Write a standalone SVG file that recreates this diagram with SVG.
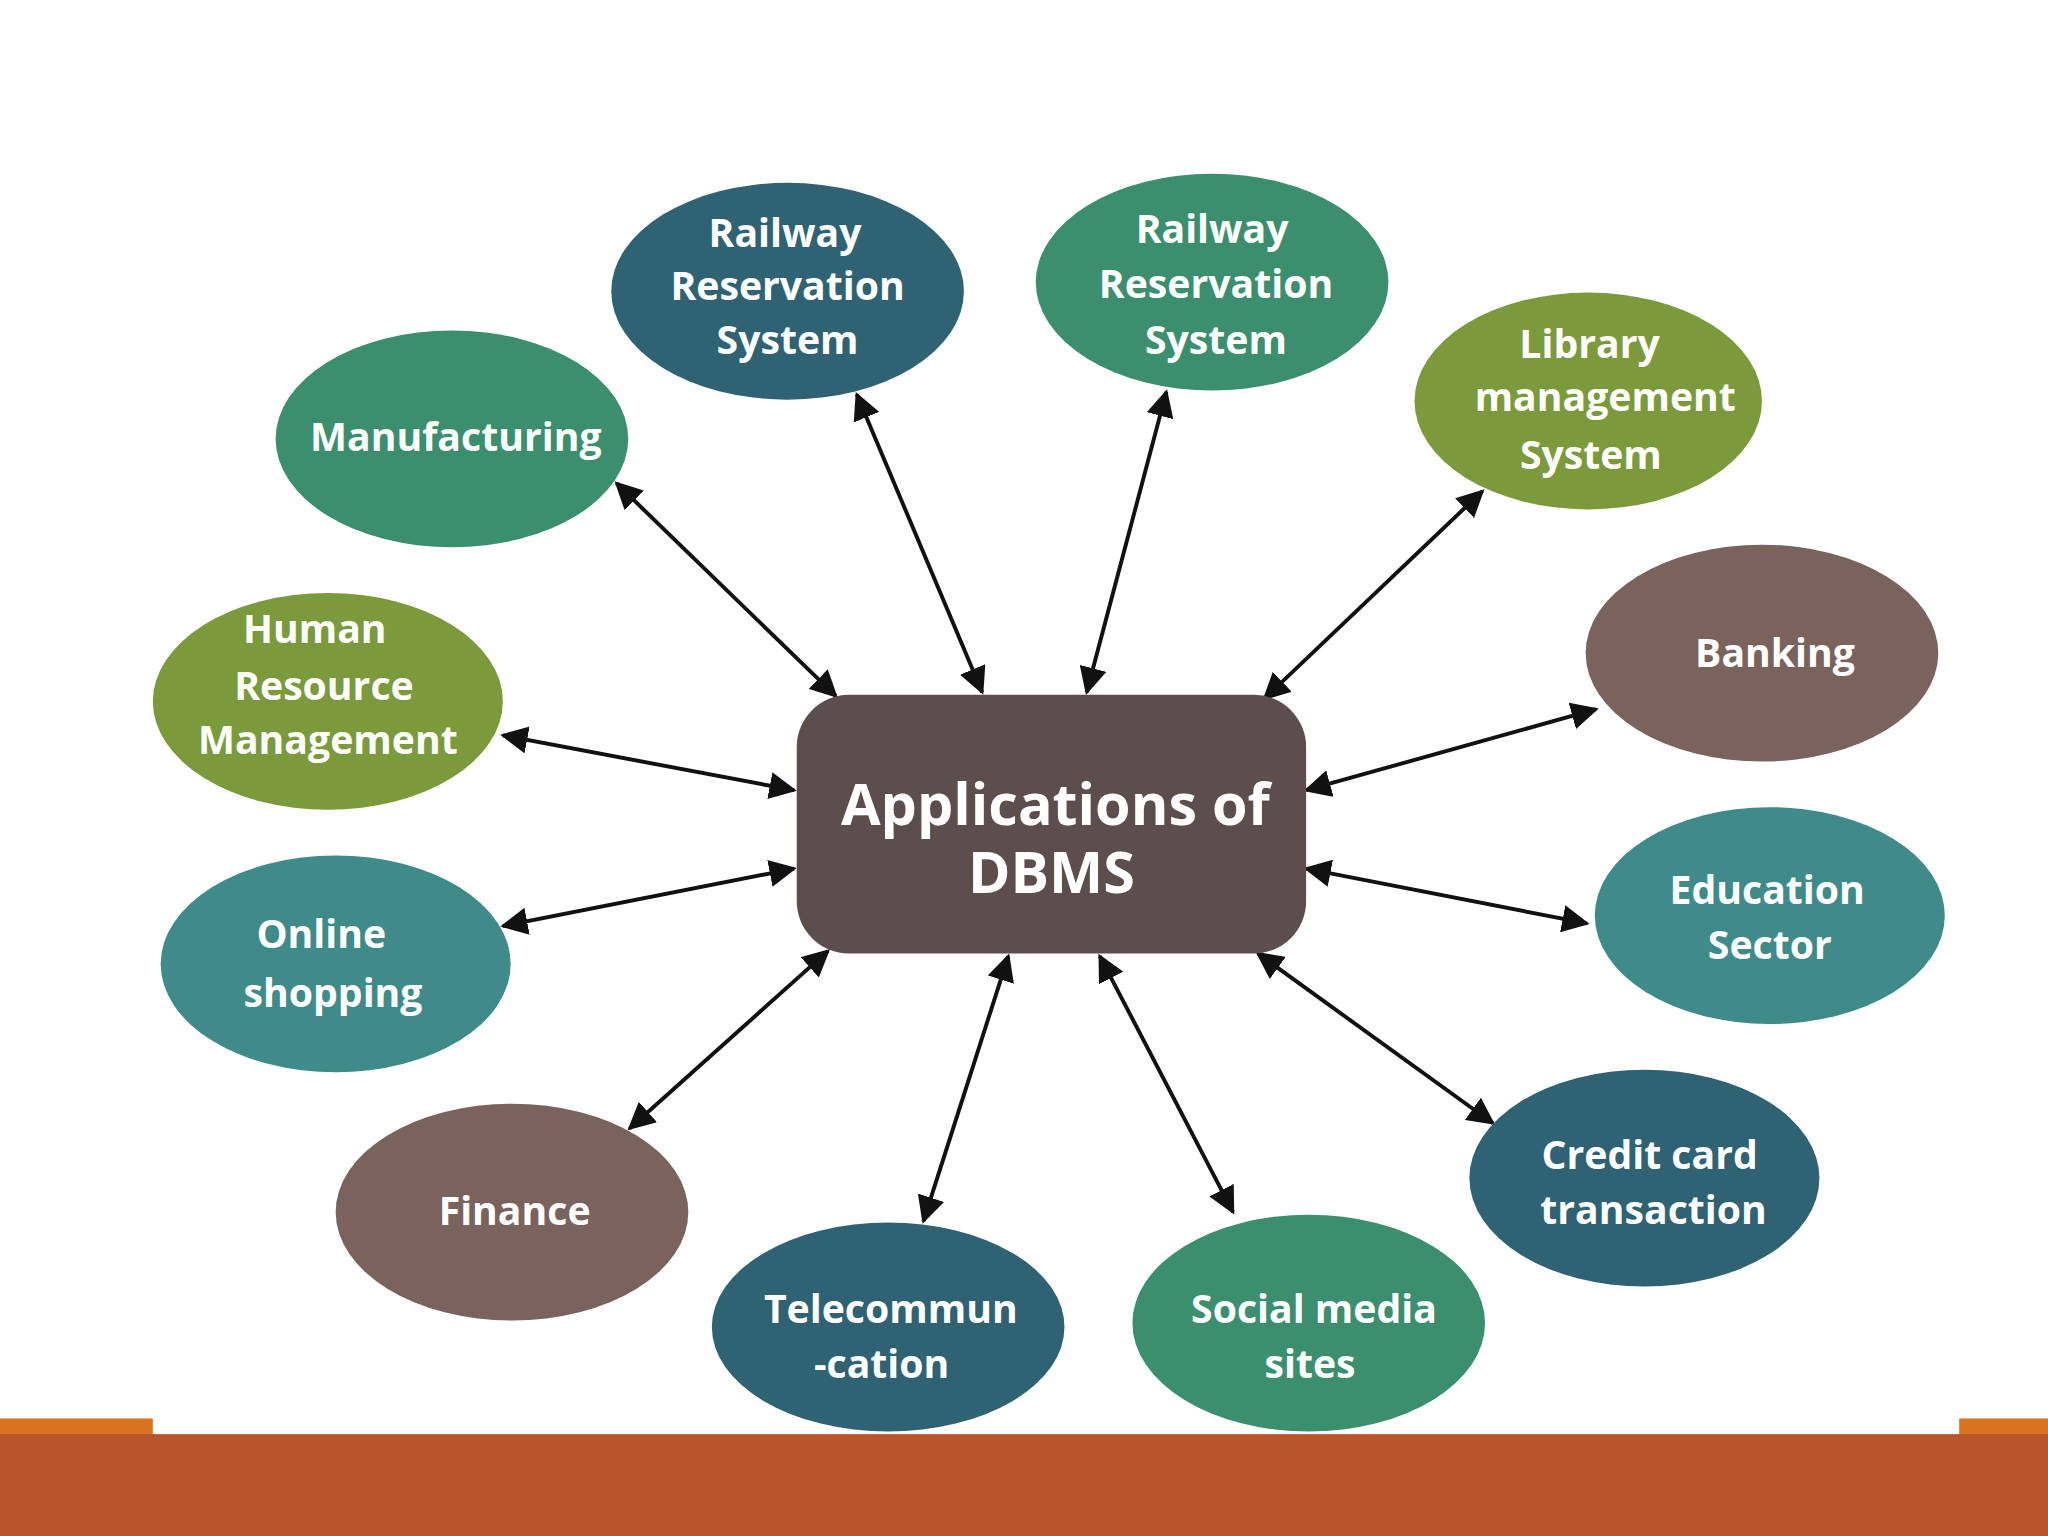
<svg xmlns="http://www.w3.org/2000/svg" width="2048" height="1536" viewBox="0 0 2048 1536">
<defs>
<marker id="ah" viewBox="0 0 10 10" refX="9" refY="5" markerWidth="7" markerHeight="7" orient="auto-start-reverse"><path d="M0,0 L10,5 L0,10 z" fill="#111"/></marker>
<style>
text{font-family:"Open Sans","Liberation Sans",sans-serif;font-weight:bold;fill:#fff;text-anchor:middle;font-size:30px}
.c{stroke:#111;stroke-width:3;fill:none;marker-start:url(#ah);marker-end:url(#ah)}
.dt{fill:#2f6273}.gr{fill:#3b8f6f}.ol{fill:#7b9a3b}.br{fill:#7a625d}.tl{fill:#3f8b89}
</style>
</defs>
<rect width="2048" height="1536" fill="#fff"/>
<g transform="scale(1.30612)">
<rect x="0" y="1086" width="117" height="14" fill="#d8741f"/>
<rect x="1500" y="1086" width="68" height="14" fill="#d8741f"/>
<rect x="0" y="1098" width="1568" height="78" fill="#b8552c"/>
<g id="connectors">
<line class="c" x1="472" y1="370" x2="640" y2="533"/>
<line class="c" x1="656" y1="302" x2="752" y2="530"/>
<line class="c" x1="893" y1="300" x2="832" y2="530"/>
<line class="c" x1="1135" y1="376" x2="968" y2="535"/>
<line class="c" x1="385" y1="563" x2="608" y2="605"/>
<line class="c" x1="1222" y1="543" x2="1000" y2="605"/>
<line class="c" x1="385" y1="709" x2="608" y2="665"/>
<line class="c" x1="1215" y1="707" x2="1000" y2="665"/>
<line class="c" x1="482" y1="864" x2="634" y2="728"/>
<line class="c" x1="707" y1="935" x2="772" y2="732"/>
<line class="c" x1="944" y1="928" x2="842" y2="732"/>
<line class="c" x1="1143" y1="860" x2="963" y2="730"/>
</g>
<g id="center"><rect x="610" y="532" width="390" height="198" rx="40" fill="#5d4e4e"/>
<text x="808" y="632" style="font-size:44px">Applications of</text><text x="805" y="684" style="font-size:44px">DBMS</text></g>
<g id="railway1"><ellipse class="dt" cx="603" cy="223" rx="135" ry="83"/><text x="601" y="189">Railway</text><text x="603" y="230">Reservation</text><text x="603" y="271">System</text></g>
<g id="railway2"><ellipse class="gr" cx="928" cy="216" rx="135" ry="83"/><text x="928" y="186">Railway</text><text x="931" y="228">Reservation</text><text x="931" y="271">System</text></g>
<g id="library"><ellipse class="ol" cx="1216" cy="307" rx="133" ry="83"/><text x="1217" y="274">Library</text><text x="1229" y="315">management</text><text x="1218" y="359">System</text></g>
<g id="manufacturing"><ellipse class="gr" cx="346" cy="336" rx="135" ry="83"/><text x="349" y="345">Manufacturing</text></g>
<g id="hr"><ellipse class="ol" cx="251" cy="537" rx="134" ry="83"/><text x="241" y="492">Human</text><text x="248" y="536">Resource</text><text x="251" y="577">Management</text></g>
<g id="banking"><ellipse class="br" cx="1349" cy="500" rx="135" ry="83"/><text x="1359" y="511">Banking</text></g>
<g id="online"><ellipse class="tl" cx="257" cy="738" rx="134" ry="83"/><text x="246" y="726">Online</text><text x="255" y="771">shopping</text></g>
<g id="education"><ellipse class="tl" cx="1355" cy="701" rx="134" ry="83"/><text x="1353" y="692">Education</text><text x="1355" y="734">Sector</text></g>
<g id="finance"><ellipse class="br" cx="392" cy="928" rx="135" ry="83"/><text x="394" y="938">Finance</text></g>
<g id="credit"><ellipse class="dt" cx="1259" cy="902" rx="134" ry="83"/><text x="1263" y="895">Credit card</text><text x="1266" y="937">transaction</text></g>
<g id="telecom"><ellipse class="dt" cx="680" cy="1016" rx="135" ry="80"/><text x="682" y="1013">Telecommun</text><text x="675" y="1055">-cation</text></g>
<g id="social"><ellipse class="gr" cx="1002" cy="1013" rx="135" ry="83"/><text x="1006" y="1013">Social media</text><text x="1003" y="1055">sites</text></g>
</g>
</svg>
